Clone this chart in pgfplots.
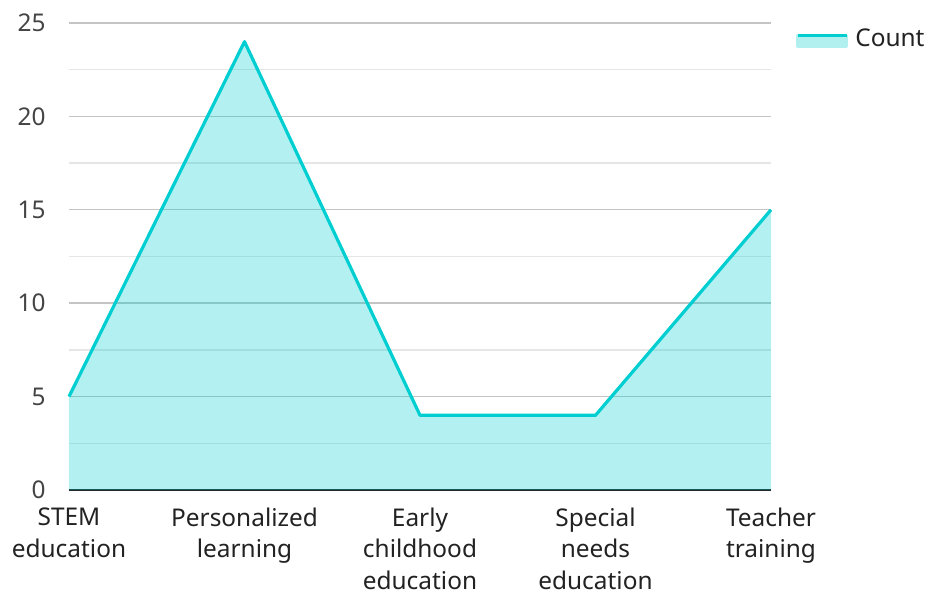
\documentclass[border=0pt]{standalone}
\usepackage{fontspec}
\setmainfont{Noto Sans}
\usepackage{pgfplots}
\pgfplotsset{compat=1.18}
\definecolor{linec}{RGB}{0,206,209}
\definecolor{fillc}{RGB}{178,240,240}
\definecolor{majgrid}{RGB}{196,196,196}
\definecolor{mingrid}{RGB}{230,230,230}
\definecolor{ticktext}{RGB}{68,68,68}
\definecolor{labtext}{RGB}{34,34,34}

\begin{document}
\begin{tikzpicture}
\path[use as bounding box] (-69bp,-104bp) rectangle (860bp,490bp);
\begin{axis}[
  at={(0,0)}, anchor=origin,
  width=702bp, height=467bp,
  scale only axis,
  xmin=0, xmax=4,
  ymin=0, ymax=25,
  xtick={0,1,2,3,4},
  xticklabels={{STEM\\education},{Personalized\\learning},{Early\\childhood\\education},{Special\\needs\\education},{Teacher\\training}},
  ytick={0,5,10,15,20,25},
  minor ytick={2.5,7.5,12.5,17.5,22.5},
  ymajorgrids, yminorgrids,
  major grid style={majgrid, line width=1.4bp},
  minor grid style={mingrid, line width=1.4bp},
  axis x line*=bottom,
  axis y line*=left,
  y axis line style={draw=none},
  x axis line style={draw=labtext, line width=1.6bp, -},
  major tick length=0pt, minor tick length=0pt,
  tick style={draw=none},
  xticklabel style={align=center, anchor=north, yshift=-14bp, text=labtext,
    font=\fontsize{24.5}{32}\selectfont},
  yticklabel style={anchor=east, xshift=-20bp, text=ticktext,
    font=\fontsize{24.5}{26}\selectfont},
  /pgf/number format/assume math mode=true,
  legend style={at={(1,1)}, anchor=north west, xshift=22bp, yshift=-2bp,
    draw=none, fill=none, font=\fontsize{24.5}{26}\selectfont\color{labtext},
    legend cell align=left},
  legend image code/.code={
    \fill[fillc] (0bp,-8bp) rectangle (49bp,3bp);
    \draw[linec, line width=3bp] (0bp,3bp) -- (49bp,3bp);
  },
  clip=false,
]
\addplot[draw=none, fill=linec, fill opacity=0.3, forget plot] coordinates {(0,5) (1,24) (2,4) (3,4) (4,15)} \closedcycle;
\addplot[linec, line width=3.2bp, line join=round] coordinates {(0,5) (1,24) (2,4) (3,4) (4,15)};
\addlegendentry{\hspace{5bp}Count}
\end{axis}
\end{tikzpicture}
\end{document}
